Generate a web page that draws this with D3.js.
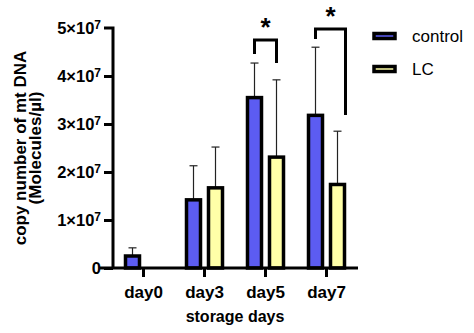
<!DOCTYPE html>
<html><head><meta charset="utf-8">
<script src="https://cdn.jsdelivr.net/npm/d3@7"></script>
<style>
html,body{margin:0;padding:0;background:#fff;}
svg{display:block;font-family:"Liberation Sans",Arial,sans-serif;}
</style></head>
<body>
<svg id="chart" width="474" height="333"></svg>
<script>
const categories = ["day0","day3","day5","day7"];
const seriesNames = ["control","LC"];
const controlMean = [2.5e6, 1.42e7, 3.55e7, 3.18e7];
const controlErr  = [4.2e6, 2.13e7, 4.27e7, 4.6e7];
const lcMean      = [0, 1.67e7, 2.31e7, 1.74e7];
const lcErr       = [0, 2.52e7, 3.92e7, 2.85e7];
const yTicks = [0, 1e7, 2e7, 3e7, 4e7, 5e7];
const colors = ["#5c5cf2", "#ffffa8"];
const sigCats = ["day5","day7"];
const sigLabels = ["*","*"];

const svg = d3.select("#chart");
const x = d3.scaleBand().domain(categories).range([113, 357]).padding(0);
const y = d3.scaleLinear().domain([0, 5e7]).range([268, 28]);
const off = 11, bw = 14;

// bars
const series = [
  {name: seriesNames[0], mean: controlMean, err: controlErr, dx: -off, color: colors[0]},
  {name: seriesNames[1], mean: lcMean, err: lcErr, dx: off, color: colors[1]}
];
series.forEach(s => {
  const g = svg.append("g");
  categories.forEach((c, i) => {
    const cx = x(c) + x.bandwidth()/2 + s.dx;
    if (s.err[i] > s.mean[i]) {
      g.append("line").attr("x1", cx).attr("x2", cx)
        .attr("y1", y(s.mean[i])).attr("y2", y(s.err[i]))
        .attr("stroke", "#222").attr("stroke-width", 1.2);
      g.append("line").attr("x1", cx-4).attr("x2", cx+4)
        .attr("y1", y(s.err[i])).attr("y2", y(s.err[i]))
        .attr("stroke", "#222").attr("stroke-width", 1.2);
    }
    if (s.mean[i] > 0) {
      g.append("rect").attr("x", cx - bw/2).attr("width", bw)
        .attr("y", y(s.mean[i])).attr("height", y(0) - y(s.mean[i]))
        .attr("fill", s.color).attr("stroke", "#000").attr("stroke-width", 3.5);
    }
  });
});

// axes
const yAxis = d3.axisLeft(y).tickValues(yTicks).tickSize(9).tickPadding(3).tickFormat(() => "");
const gy = svg.append("g").attr("transform", "translate(113,0)").call(yAxis);
gy.select(".domain").attr("stroke-width", 3).attr("d", `M-9,${y(5e7)}H0V${y(0)}`);
gy.selectAll(".tick line").attr("stroke-width", 3);
gy.selectAll(".tick").each(function(d) {
  const t = d3.select(this).append("text").attr("x", -12).attr("dy", "0.36em")
    .attr("text-anchor", "end").attr("fill", "#000")
    .style("font-size", "16.5px").style("font-weight", "bold");
  if (d === 0) { t.text("0"); }
  else {
    t.append("tspan").text((d/1e7) + "×10");
    t.append("tspan").attr("dy", "-0.45em").style("font-size", "12px").text("7");
  }
});
gy.selectAll(".tick").filter(d => d === 5e7).select("line").remove();

const xAxis = d3.axisBottom(x).tickSize(9).tickPadding(9);
const gx = svg.append("g").attr("transform", "translate(0,268)").call(xAxis);
gx.select(".domain").attr("stroke-width", 3).attr("d", `M100,0H358`);
gx.selectAll(".tick line").attr("stroke-width", 3);
gx.selectAll(".tick text").attr("fill", "#000").style("font-size", "17px").style("font-weight", "bold");

// axis titles
svg.append("text").attr("transform", "translate(26,148) rotate(-90)")
  .attr("text-anchor", "middle").style("font-size", "17px").style("font-weight", "bold")
  .text("copy number of mt DNA");
svg.append("text").attr("transform", "translate(41,148) rotate(-90)")
  .attr("text-anchor", "middle").style("font-size", "17px").style("font-weight", "bold")
  .text("(Molecules/µl)");
svg.append("text").attr("x", 235).attr("y", 322)
  .attr("text-anchor", "middle").style("font-size", "16px").style("font-weight", "bold")
  .text("storage days");

// significance brackets
const bracketTopY = [40, 29], leftY = [54, 39], rightY = [63, 115], extraRight = [0, 8];
sigCats.forEach((c, i) => {
  const cx = x(c) + x.bandwidth()/2;
  const x1 = cx - off, x2 = cx + off + extraRight[i];
  svg.append("path").attr("d", `M${x1},${leftY[i]}V${bracketTopY[i]}H${x2}V${rightY[i]}`)
    .attr("fill", "none").attr("stroke", "#000").attr("stroke-width", 3);
  svg.append("text").attr("x", (x1 + x2)/2).attr("y", bracketTopY[i] - 4)
    .attr("text-anchor", "middle").style("font-size", "26px").style("font-weight", "bold")
    .text(sigLabels[i]);
});

// legend
seriesNames.forEach((n, i) => {
  const ly = 36 + i * 33;
  svg.append("rect").attr("x", 374).attr("y", ly - 2.5).attr("width", 21).attr("height", 5)
    .attr("fill", colors[i]).attr("stroke", "#000").attr("stroke-width", 3.5);
  svg.append("text").attr("x", 412).attr("y", ly).attr("dy", "0.36em")
    .style("font-size", "17px").text(n);
});
</script>
</body></html>
